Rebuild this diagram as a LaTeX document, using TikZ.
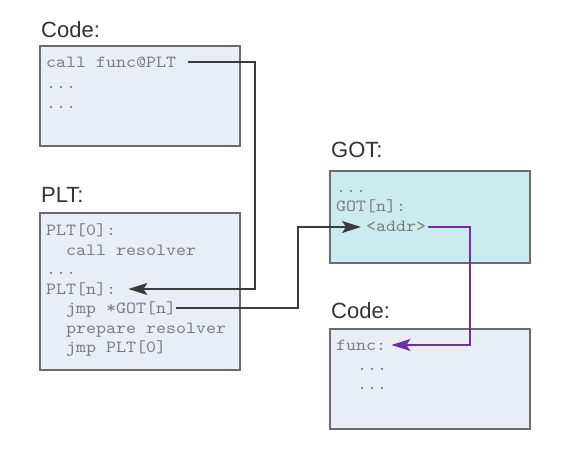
\documentclass[tikz,border=0pt]{standalone}
\usepackage{fontspec}
\setmainfont{Liberation Sans}
\newfontfamily\codefont[FakeStretch=1.12]{lmmono10-regular.otf}
\usetikzlibrary{arrows.meta}

\definecolor{boxfill}{HTML}{E9EEF6}
\definecolor{gotfill}{HTML}{CCEBF0}
\definecolor{boxline}{HTML}{6C6C6C}
\definecolor{codetext}{HTML}{7C7C7C}
\definecolor{titletext}{HTML}{333333}
\definecolor{linkline}{HTML}{3C3C3C}
\definecolor{linkpurple}{HTML}{7030A0}

\tikzset{
    sect/.style = { draw = boxline, line width = 1.8pt, anchor = north west, inner sep = 0pt, minimum width = 200pt },
    title/.style = { anchor = base west, inner sep = 0pt, text = titletext, font = \fontsize{22}{26}\selectfont },
    code/.style = { anchor = base west, inner sep = 0pt, text = codetext, font = \codefont\fontsize{17}{20}\selectfont },
    link/.style = { draw = linkline, line width = 2pt, -{Stealth[length=19pt,width=12pt,inset=4pt]} }
}

\begin{document}
\begin{tikzpicture}[ x = 1pt, y = -1pt ]
        \useasboundingbox ( 0, 0 ) rectangle ( 570, 448 );

        % блок Code
        \node [ title ] (codetitle) at ( 41, 37 ) {Code:};
        \node [ sect, fill = boxfill, minimum height = 100pt ] (codebox) at ( 39, 45 ) {};
        \node [ code ] (callf) at ( 46, 67 ) {call func@PLT};
        \node [ code ] (codedots1) at ( 46, 88 ) {...};
        \node [ code ] (codedots2) at ( 46, 108 ) {...};

        % блок PLT
        \node [ title ] (plttitle) at ( 41, 202 ) {PLT:};
        \node [ sect, fill = boxfill, minimum height = 157pt ] (pltbox) at ( 39, 212 ) {};
        \node [ code ] (plt0) at ( 46, 235 ) {PLT[0]:};
        \node [ code ] (callres) at ( 66, 255 ) {call resolver};
        \node [ code ] (pltdots) at ( 46, 274 ) {...};
        \node [ code ] (pltn) at ( 46, 294 ) {PLT[n]:};
        \node [ code ] (jmpgot) at ( 66, 313 ) {jmp *GOT[n]};
        \node [ code ] (prepres) at ( 66, 333 ) {prepare resolver};
        \node [ code ] (jmpplt) at ( 66, 352 ) {jmp PLT[0]};

        % блок GOT
        \node [ title ] (gottitle) at ( 331, 157 ) {GOT:};
        \node [ sect, fill = gotfill, minimum height = 92pt ] (gotbox) at ( 329, 170 ) {};
        \node [ code ] (gotdots) at ( 336, 192 ) {...};
        \node [ code ] (gotn) at ( 336, 211 ) {GOT[n]:};
        \node [ code ] (addr) at ( 366, 231 ) {<addr>};

        % блок Code (func)
        \node [ title ] (functitle) at ( 331, 318 ) {Code:};
        \node [ sect, fill = boxfill, minimum height = 100pt ] (funcbox) at ( 329, 328 ) {};
        \node [ code ] (func) at ( 336, 350 ) {func:};
        \node [ code ] (funcdots1) at ( 357, 370 ) {...};
        \node [ code ] (funcdots2) at ( 357, 389 ) {...};

        % изломы
        \coordinate (bend1) at ( 255, 289 );
        \coordinate (bend2) at ( 298, 227 );
        \coordinate (bend3) at ( 470, 345 );

        % call -> PLT[n]
        \draw [ link ] ([xshift=12pt,yshift=5pt]callf.base east) -| (bend1) |- ([xshift=12pt,yshift=5pt]pltn.base east);
        % jmp -> GOT[n]
        \draw [ link ] ([yshift=5pt]jmpgot.base east) -| (bend2) |- ([xshift=-5pt,yshift=4pt]addr.base west);
        % addr -> func
        \draw [ link, draw = linkpurple ] ([xshift=2pt,yshift=4pt]addr.base east) -| (bend3) |- ([xshift=5pt,yshift=5pt]func.base east);
    \end{tikzpicture}
\end{document}
